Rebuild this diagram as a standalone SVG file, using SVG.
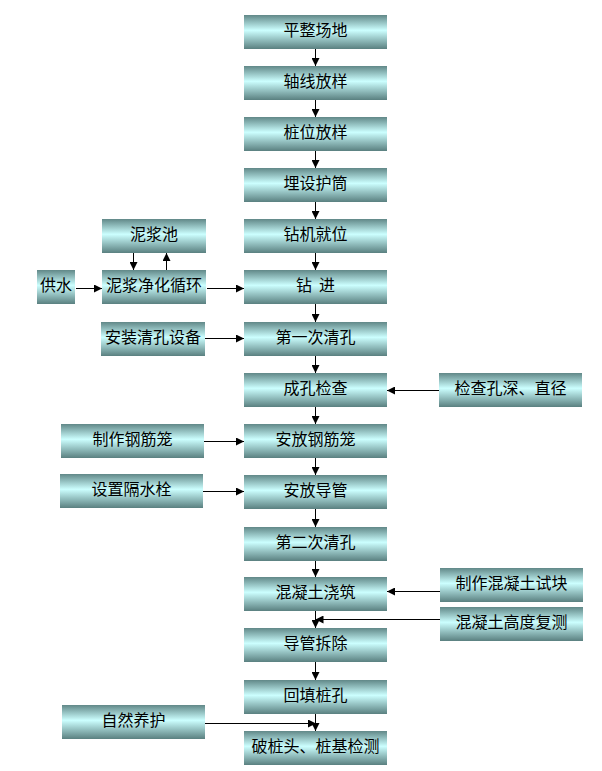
<svg xmlns="http://www.w3.org/2000/svg" width="602" height="771" viewBox="0 0 602 771">
<defs>
<linearGradient id="g" x1="0" y1="0" x2="0" y2="1">
<stop offset="0" stop-color="#618888"/>
<stop offset="0.45" stop-color="#ccffff"/>
<stop offset="1" stop-color="#5a8080"/>
</linearGradient>
<marker id="ah" markerUnits="userSpaceOnUse" markerWidth="9" markerHeight="8" refX="8" refY="4" orient="auto">
<path d="M0,0 L8,4 L0,8 Z" fill="#000"/>
</marker>
<style>
.b{fill:url(#g);stroke:none}
.t{font-family:"Noto Sans CJK SC","Liberation Sans",sans-serif;font-size:16px;fill:#000;text-anchor:middle}
.c{stroke:#000;stroke-width:1;fill:none;marker-end:url(#ah)}
</style>
</defs>
<rect width="602" height="771" fill="#fff"/>
<g id="n1"><rect class="b" x="244" y="15" width="143" height="34"/><text class="t" x="315.5" y="36">平整场地</text></g>
<g id="n2"><rect class="b" x="244" y="66" width="143" height="34"/><text class="t" x="315.5" y="87">轴线放样</text></g>
<g id="n3"><rect class="b" x="244" y="117" width="143" height="34"/><text class="t" x="315.5" y="138">桩位放样</text></g>
<g id="n4"><rect class="b" x="244" y="168" width="143" height="34"/><text class="t" x="315.5" y="189">埋设护筒</text></g>
<g id="n5"><rect class="b" x="244" y="219" width="143" height="34"/><text class="t" x="315.5" y="240">钻机就位</text></g>
<g id="n6"><rect class="b" x="244" y="270" width="143" height="34"/><text class="t" x="315.5" y="291" style="white-space:pre">钻  进</text></g>
<g id="n7"><rect class="b" x="244" y="322" width="143" height="34"/><text class="t" x="315.5" y="343">第一次清孔</text></g>
<g id="n8"><rect class="b" x="244" y="373" width="143" height="34"/><text class="t" x="315.5" y="394">成孔检查</text></g>
<g id="n9"><rect class="b" x="244" y="424" width="143" height="34"/><text class="t" x="315.5" y="445">安放钢筋笼</text></g>
<g id="n10"><rect class="b" x="244" y="475" width="143" height="34"/><text class="t" x="315.5" y="496">安放导管</text></g>
<g id="n11"><rect class="b" x="244" y="527" width="143" height="34"/><text class="t" x="315.5" y="548">第二次清孔</text></g>
<g id="n12"><rect class="b" x="244" y="577" width="143" height="34"/><text class="t" x="315.5" y="598">混凝土浇筑</text></g>
<g id="n13"><rect class="b" x="244" y="628" width="143" height="34"/><text class="t" x="315.5" y="649">导管拆除</text></g>
<g id="n14"><rect class="b" x="244" y="680" width="143" height="34"/><text class="t" x="315.5" y="701">回填桩孔</text></g>
<g id="n15"><rect class="b" x="244" y="731" width="143" height="34"/><text class="t" x="315.5" y="752">破桩头、桩基检测</text></g>
<g id="s1"><rect class="b" x="102" y="219" width="104" height="34"/><text class="t" x="154" y="240">泥浆池</text></g>
<g id="s2"><rect class="b" x="102" y="270" width="104" height="34"/><text class="t" x="154" y="291">泥浆净化循环</text></g>
<g id="s3"><rect class="b" x="37" y="270" width="38" height="34"/><text class="t" x="56" y="291">供水</text></g>
<g id="s4"><rect class="b" x="101" y="322" width="104" height="34"/><text class="t" x="153" y="343">安装清孔设备</text></g>
<g id="s5"><rect class="b" x="439" y="373" width="143" height="34"/><text class="t" x="510.5" y="394">检查孔深、直径</text></g>
<g id="s6"><rect class="b" x="61" y="424" width="143" height="34"/><text class="t" x="132.5" y="445">制作钢筋笼</text></g>
<g id="s7"><rect class="b" x="60" y="474" width="143" height="34"/><text class="t" x="131.5" y="495">设置隔水栓</text></g>
<g id="s8"><rect class="b" x="440" y="568" width="143" height="34"/><text class="t" x="511.5" y="589">制作混凝土试块</text></g>
<g id="s9"><rect class="b" x="440" y="607" width="143" height="34"/><text class="t" x="511.5" y="628">混凝土高度复测</text></g>
<g id="s10"><rect class="b" x="62" y="705" width="143" height="34"/><text class="t" x="133.5" y="726">自然养护</text></g>
<g id="connectors">
<line class="c" x1="315.5" y1="49" x2="315.5" y2="66"/>
<line class="c" x1="315.5" y1="100" x2="315.5" y2="117"/>
<line class="c" x1="315.5" y1="151" x2="315.5" y2="168"/>
<line class="c" x1="315.5" y1="202" x2="315.5" y2="219"/>
<line class="c" x1="315.5" y1="253" x2="315.5" y2="270"/>
<line class="c" x1="315.5" y1="304" x2="315.5" y2="322"/>
<line class="c" x1="315.5" y1="356" x2="315.5" y2="373"/>
<line class="c" x1="315.5" y1="407" x2="315.5" y2="424"/>
<line class="c" x1="315.5" y1="458" x2="315.5" y2="475"/>
<line class="c" x1="315.5" y1="509" x2="315.5" y2="527"/>
<line class="c" x1="315.5" y1="561" x2="315.5" y2="577"/>
<line class="c" x1="315.5" y1="611" x2="315.5" y2="628"/>
<line class="c" x1="315.5" y1="662" x2="315.5" y2="680"/>
<line class="c" x1="315.5" y1="714" x2="315.5" y2="731"/>
<line class="c" x1="133.5" y1="253" x2="133.5" y2="270"/>
<line class="c" x1="166.5" y1="270" x2="166.5" y2="253"/>
<line class="c" x1="76" y1="288.5" x2="102" y2="288.5"/>
<line class="c" x1="207" y1="288.5" x2="244" y2="288.5"/>
<line class="c" x1="205" y1="338.5" x2="244" y2="338.5"/>
<line class="c" x1="439" y1="390.5" x2="387" y2="390.5"/>
<line class="c" x1="204" y1="441.5" x2="244" y2="441.5"/>
<line class="c" x1="203" y1="491.5" x2="244" y2="491.5"/>
<line class="c" x1="440" y1="591.5" x2="387" y2="591.5"/>
<line class="c" x1="440" y1="619.5" x2="315.5" y2="619.5"/>
<line class="c" x1="205" y1="723.5" x2="316" y2="723.5"/>
</g>
</svg>
